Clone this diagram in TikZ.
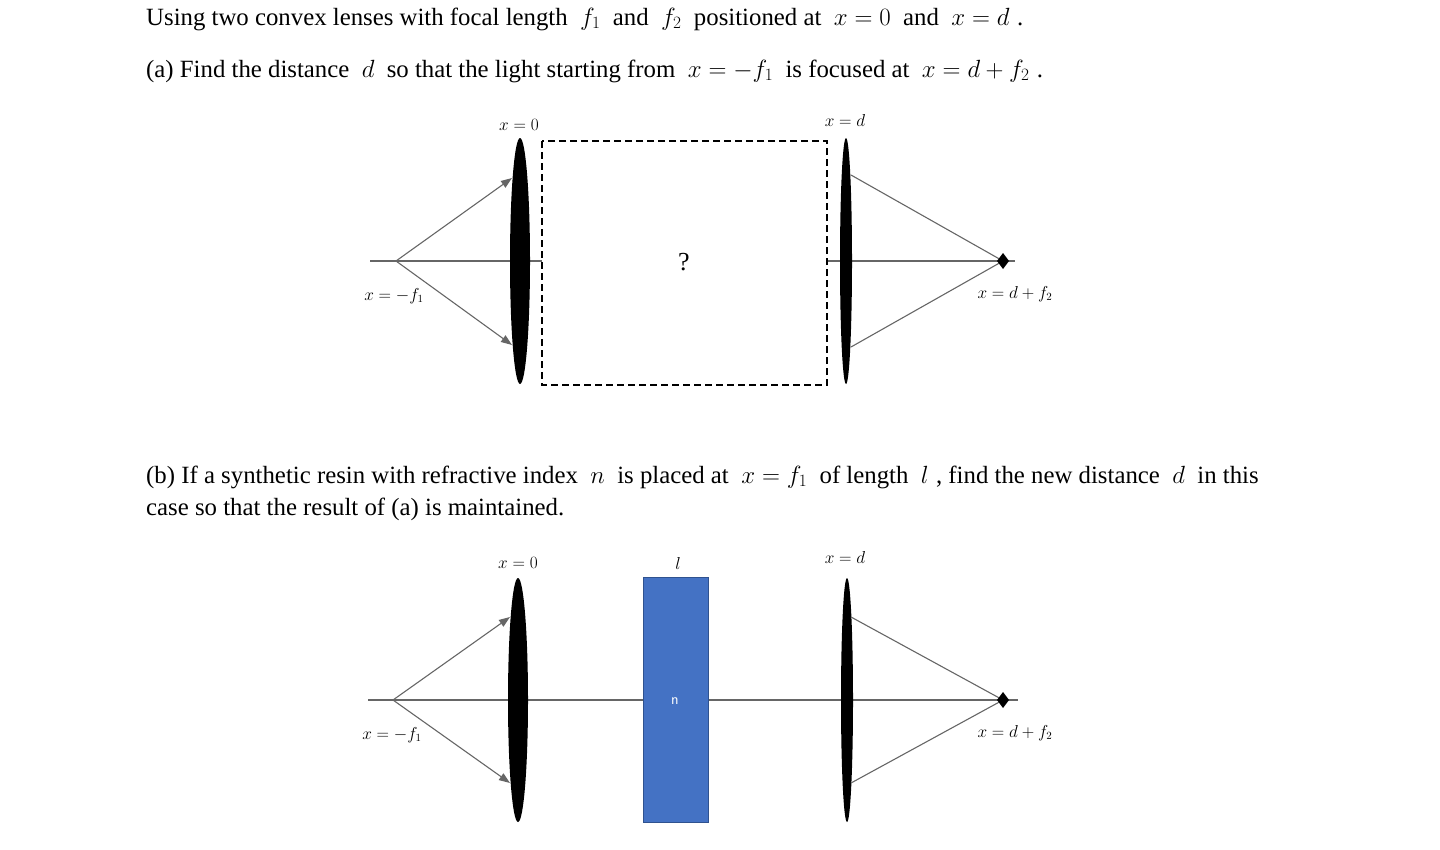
\documentclass[tikz,border=0pt]{standalone}
\usepackage{fontspec}
\setmainfont{Liberation Serif}
\usetikzlibrary{arrows.meta}
\newcommand{\mm}[1]{\ \ $#1$\ \ }
\begin{document}
\begin{tikzpicture}[x=1pt,y=-1pt,
  ray/.style={draw=gray!80!black,line width=1.1pt},
  lensA/.style={fill=black},
  tip/.style={-{Triangle[length=11pt,width=8pt]}},
  lbl/.style={font=\fontsize{16}{18}\selectfont,inner sep=0pt},
  txt/.style={font=\fontsize{24.8}{29}\selectfont,anchor=base west,inner sep=0pt}]
\useasboundingbox (0,0) rectangle (1440,849);
\node[txt] (t1) at (146,25) {Using two convex lenses with focal length\mm{f_1}and\mm{f_2}positioned at\mm{x=0}and\mm{x=d}\kern-5pt.};
\node[txt] (t2) at (146,77) {(a) Find the distance\mm{d}so that the light starting from\mm{x=-f_1}is focused at\mm{x=d+f_2}\kern-5pt.};
\node[txt] (t3) at (146,483) {(b) If a synthetic resin with refractive index\mm{n}is placed at\mm{x=f_1}of length\mm{l}\kern-5pt, find the new distance\mm{d}in this};
\node[txt] (t4) at (146,515) {case so that the result of (a) is maintained.};
% ---- top
\draw[ray] (370,261) -- (542,261);
\draw[ray] (827,261) -- (1015,261);
\coordinate (s1) at (396,261);
\coordinate (f1) at (1003,261);
\fill[lensA] (520,261) ellipse (10 and 123);
\fill[lensA] (846,261) ellipse (6 and 123);
\draw[dash pattern=on 7pt off 4pt,line width=1.2pt] (542,141) rectangle (827,385);
\draw[ray,tip] (s1) -- (512,178);
\draw[ray,tip] (s1) -- (512,345);
\draw[ray] (851,175) -- (f1);
\draw[ray] (851,347) -- (f1);
\fill (f1) +(-6,0) -- +(0,-8) -- +(6,0) -- +(0,8) -- cycle;
\node[lbl] (a0) at (519,125) {$x=0$};
\node[lbl] (ad) at (845,120) {$x=d$};
\node[lbl] (af) at (394,296) {$x=-f_1$};
\node[lbl] (ae) at (1015,294) {$x=d+f_2$};
\node[font=\fontsize{26}{30}\selectfont] (q) at (684,262) {?};
% ---- bottom
\draw[ray] (368,700) -- (1018,700);
\coordinate (s2) at (393,700);
\coordinate (f2) at (1003,700);
\fill[lensA] (518,700) ellipse (10 and 122);
\fill[lensA] (847,700) ellipse (6 and 122);
\draw[fill={rgb,255:red,68;green,114;blue,196},draw={rgb,255:red,47;green,82;blue,143},line width=0.8pt] (643,577) rectangle (708,822);
\node[text=white,font=\sffamily\fontsize{15}{17}\selectfont] (n) at (675,701) {n};
\draw[ray,tip] (s2) -- (510,617);
\draw[ray,tip] (s2) -- (510,783);
\draw[ray] (851,617) -- (f2);
\draw[ray] (851,783) -- (f2);
\fill (f2) +(-6,0) -- +(0,-8) -- +(6,0) -- +(0,8) -- cycle;
\node[lbl] (b0) at (518,563) {$x=0$};
\node[lbl] (bl) at (678,563) {$l$};
\node[lbl] (bd) at (845,557) {$x=d$};
\node[lbl] (bf) at (392,735) {$x=-f_1$};
\node[lbl] (be) at (1015,733) {$x=d+f_2$};
\end{tikzpicture}
\end{document}
